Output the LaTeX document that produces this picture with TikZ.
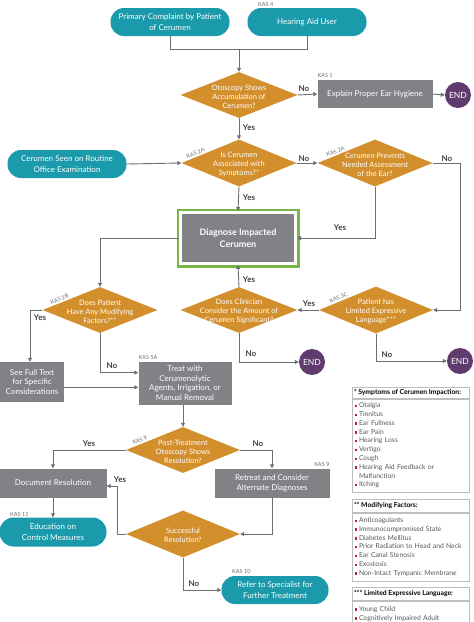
\documentclass[tikz,border=0pt]{standalone}
\usepackage{fontspec}
\setmainfont{Lato}
\usetikzlibrary{shapes.geometric,arrows.meta,calc}
\definecolor{cteal}{HTML}{1A9AAA}
\definecolor{cgold}{HTML}{D38F2C}
\definecolor{cgrey}{HTML}{808285}
\definecolor{cpurple}{HTML}{5F3B6E}
\definecolor{cgreen}{HTML}{77B547}
\definecolor{cline}{HTML}{6D6E71}
\definecolor{cdark}{HTML}{414042}
\definecolor{ckas}{HTML}{6D6E71}
\definecolor{cred}{HTML}{BE1E2D}
\definecolor{cbord}{HTML}{BCBEC0}
\definecolor{clegtxt}{HTML}{58595B}
\newcommand{\bul}{{\color{cred}\rule[0.5pt]{2.4pt}{2.4pt}}\hspace{1.8pt}}
\newcommand{\headbox}[1]{\makebox[114pt][l]{#1}}
\begin{document}
\begin{tikzpicture}[x=1pt,y=-1pt,
  pill/.style={rectangle, rounded corners=13.5pt, fill=cteal, text=white, align=center,
    inner sep=0pt, font=\fontsize{8}{10.5}\selectfont},
  gbox/.style={rectangle, fill=cgrey, text=white, align=center, inner sep=0pt,
    font=\fontsize{8}{9.8}\selectfont},
  dia/.style={diamond, fill=cgold, inner sep=0pt, minimum width=115pt, minimum height=46pt},
  dtext/.style={text=white, align=center, inner sep=0pt, yshift=-1.5pt, font=\fontsize{7.4}{8.9}\selectfont},
  endc/.style={circle, fill=cpurple, text=white, minimum size=26pt, inner sep=0pt,
    font=\fontsize{8.5}{10}\selectfont},
  line/.style={draw=cline, line width=0.9pt},
  arr/.style={line, -{Triangle[length=4pt,width=4pt]}},
  yn/.style={text=cdark, inner sep=0pt, font=\bfseries\fontsize{8}{10}\selectfont},
  kas/.style={text=ckas, inner sep=0pt, font=\fontsize{5.6}{7}\selectfont},
  leghead/.style={draw=cbord, line width=0.6pt, minimum width=117pt,
    inner xsep=1.5pt, inner ysep=0pt, text=black, font=\bfseries\fontsize{6.8}{8}\selectfont},
  legbody/.style={draw=cbord, line width=0.6pt, minimum width=117pt, text width=112pt,
    align=left, inner xsep=2.5pt, inner ysep=0pt, text=clegtxt, font=\fontsize{6.8}{8.8}\selectfont},
]
\fill[white] (0,0) rectangle (474,622);
\useasboundingbox (0,0) rectangle (474,622);

% ---- nodes ----
\node[pill, minimum width=119pt, minimum height=28pt] (p1) at (170,22) {Primary Complaint by Patient\\of Cerumen};
\node[pill, minimum width=119pt, minimum height=28pt] (p2) at (307,22) {Hearing Aid User};
\node[kas, anchor=south west] (k4) at (258,7) {KAS 4};

\node[dia, minimum width=117pt] (d1) at (239,95) {};
\node[dtext] (d1t) at (d1.center) {Otoscopy Shows\\Accumulation of\\Cerumen?};
\node[gbox, minimum width=115pt, minimum height=28pt] (b1) at (375,94) {Explain Proper Ear Hygiene};
\node[kas, anchor=south west] (k1) at ($(b1.north west)+(0,-2)$) {KAS 1};
\node[endc] (e1) at (458,95) {END};

\node[dia, minimum height=47pt] (d2) at (239,163) {};
\node[dtext] (d2t) at (d2.center) {Is Cerumen\\Associated with\\Symptoms?*};
\node[pill, minimum width=119pt, minimum height=28pt] (p3) at (67,164) {Cerumen Seen on Routine\\Office Examination};
\node[dia, minimum width=115pt, minimum height=47pt] (d3) at (375,163) {};
\node[dtext] (d3t) at (d3.center) {Cerumen Prevents\\Needed Assessment\\of the Ear?};

\node[rectangle, fill=cgrey, draw=white, line width=3pt, preaction={draw=cgreen, line width=8pt},
  minimum width=115pt, minimum height=51pt, text=white, align=center,
  font=\bfseries\fontsize{9}{12}\selectfont] (diag) at (238,238) {Diagnose Impacted\\Cerumen};

\node[dia, minimum width=117pt] (d4) at (239,310) {};
\node[dtext] (d4t) at (d4.center) {Does Clinician\\Consider the Amount of\\Cerumen Significant?};
\node[endc] (e2) at (312,362) {END};
\node[dia, minimum width=114pt, minimum height=47pt] (d5) at (376,310) {};
\node[dtext] (d5t) at (d5.center) {Patient has\\Limited Expressive\\Language***};
\node[endc] (e3) at (460,361) {END};

\node[dia] (d6) at (100,310) {};
\node[dtext] (d6t) at (d6.center) {Does Patient\\Have Any Modifying\\Factors?**};
\node[gbox, minimum width=64pt, minimum height=40pt] (b2) at (32,382) {See Full Text\\for Specific\\Considerations};
\node[gbox, minimum width=93pt, minimum height=43pt] (b3) at (185,383) {Treat with\\Cerumenolytic\\Agents, Irrigation, or\\Manual Removal};
\node[kas, anchor=south west] (k5a) at ($(b3.north west)+(0,-2)$) {KAS 5A};

\node[dia, minimum width=114pt] (d7) at (183,450) {};
\node[dtext] (d7t) at (d7.center) {Post-Treatment\\Otoscopy Shows\\Resolution?};
\node[gbox, minimum width=107pt, minimum height=29pt] (b4) at (53,483) {Document Resolution};
\node[gbox, minimum width=115pt, minimum height=29pt] (b5) at (272,483) {Retreat and Consider\\Alternate Diagnoses};
\node[kas, anchor=south east] (k9b) at ($(b5.north east)+(0,-2)$) {KAS 9};
\node[pill, minimum width=107pt, minimum height=29pt, rounded corners=14pt] (p4) at (53,532) {Education on\\Control Measures};
\node[kas, anchor=south west] (k11) at (10,517) {KAS 11};
\node[dia, minimum width=114pt, minimum height=47pt] (d8) at (183,534) {};
\node[dtext] (d8t) at (d8.center) {Successful\\Resolution?};
\node[pill, minimum width=107pt, minimum height=28pt] (p5) at (275,590) {Refer to Specialist for\\Further Treatment};
\node[kas, anchor=south west] (k10) at (232,574) {KAS 10};

% rotated KAS labels on diamonds
\path (d2.west) -- (d2.north) node[kas, sloped, above=1.5pt, pos=0.27] (k2a) {KAS 2A};
\path (d3.west) -- (d3.north) node[kas, sloped, above=1.5pt, pos=0.34] (k2a2) {KAS 2A};
\path (d5.west) -- (d5.north) node[kas, sloped, above=1.5pt, pos=0.37] (k3c) {KAS 3C};
\path (d6.west) -- (d6.north) node[kas, sloped, above=1.5pt, pos=0.32] (k2b) {KAS 2B};
\path (d7.west) -- (d7.north) node[kas, sloped, above=1.5pt, pos=0.27] (k9a) {KAS 9};

% ---- connectors ----
\coordinate (j1) at (239,49);
\draw[line] (p1.south) |- (j1);
\draw[line] (p2.south) |- (j1);
\draw[arr] (j1) -- (d1.north);
\draw[arr] (d1.east) -- (b1.west);
\draw[arr] (b1.east) -- (e1.west);
\draw[arr] (d1.south) -- (d2.north);
\draw[arr] (p3.east) -- (d2.west);
\draw[arr] (d2.east) -- (d3.west);
\coordinate (c1) at (460,310);
\draw[arr] (d3.east) -| (c1) -- (d5.east);
\draw[arr] (d3.south) |- (diag.east);
\draw[arr] (d2.south) -- (diag.north);
\draw[arr] (d4.north) -- (diag.south);
\draw[arr] (d4.south) |- (e2.west);
\draw[arr] (d5.west) -- (d4.east);
\draw[arr] (d5.south) |- (e3.west);
\draw[arr] (diag.west) -| (d6.north);
\draw[arr] (d6.west) -| ($(b2.north)+(-2,0)$);
\coordinate (t1) at ($(b3.north west)!0.26!(b3.south west)$);
\coordinate (t2) at ($(b3.north west)!0.6!(b3.south west)$);
\draw[arr] (d6.south) |- (t1);
\draw[arr] (t2 -| b2.east) -- (t2);
\draw[arr] (b3.south -| d7.north) -- (d7.north);
\draw[arr] (d7.west) -| (b4.north);
\draw[arr] (d7.east) -| (b5.north);
\draw[arr] (b4.south) -- (p4.north);
\draw[arr] (b5.south) |- (d8.east);
\coordinate (c3) at (117,486);
\draw[arr] (d8.west) -| (c3) -- (c3 -| b4.east);
\draw[arr] (d8.south) |- (p5.west);

% ---- yes / no labels ----
\node[yn] (n1) at (304,89) {No};
\node[yn] (y1) at (249,128) {Yes};
\node[yn] (n2) at (304,159) {No};
\node[yn] (n3) at (447,159) {No};
\node[yn] (y2) at (249,198) {Yes};
\node[yn] (y3) at (340,228) {Yes};
\node[yn] (y4) at (249,280) {Yes};
\node[yn] (y5) at (309,304) {Yes};
\node[yn] (n4) at (251,354) {No};
\node[yn] (n5) at (387,355) {No};
\node[yn] (y6) at (40,318) {Yes};
\node[yn] (n6) at (112,366) {No};
\node[yn] (y7) at (89,444) {Yes};
\node[yn] (n7) at (258,444) {No};
\node[yn] (y8) at (120,480) {Yes};
\node[yn] (n8) at (194,584) {No};

% ---- legend ----
\node[leghead, minimum height=11pt, anchor=north west] (h1) at (352,387) {\headbox{* Symptoms of Cerumen Impaction:}};
\node[legbody, minimum height=93pt, anchor=north west] (l1) at (h1.south west)
  {\bul Otalgia\\\bul Tinnitus\\\bul Ear Fullness\\\bul Ear Pain\\\bul Hearing Loss\\\bul Vertigo\\\bul Cough\\\bul Hearing Aid Feedback or\\\hspace*{4.2pt}Malfunction\\\bul Itching};
\node[leghead, minimum height=13pt, anchor=north west] (h2) at (352,499) {\headbox{** Modifying Factors:}};
\node[legbody, minimum height=68pt, anchor=north west] (l2) at (h2.south west)
  {\bul Anticoagulants\\\bul Immunocompromised State\\\bul Diabetes Mellitus\\\bul Prior Radiation to Head and Neck\\\bul Ear Canal Stenosis\\\bul Exostosis\\\bul Non-Intact Tympanic Membrane};
\node[leghead, minimum height=13pt, anchor=north west] (h3) at (352,587) {\headbox{*** Limited Expressive Language:}};
\node[legbody, minimum height=26pt, anchor=north west] (l3) at (h3.south west)
  {\bul Young Child\\\bul Cognitively Impaired Adult};
\end{tikzpicture}
\end{document}
